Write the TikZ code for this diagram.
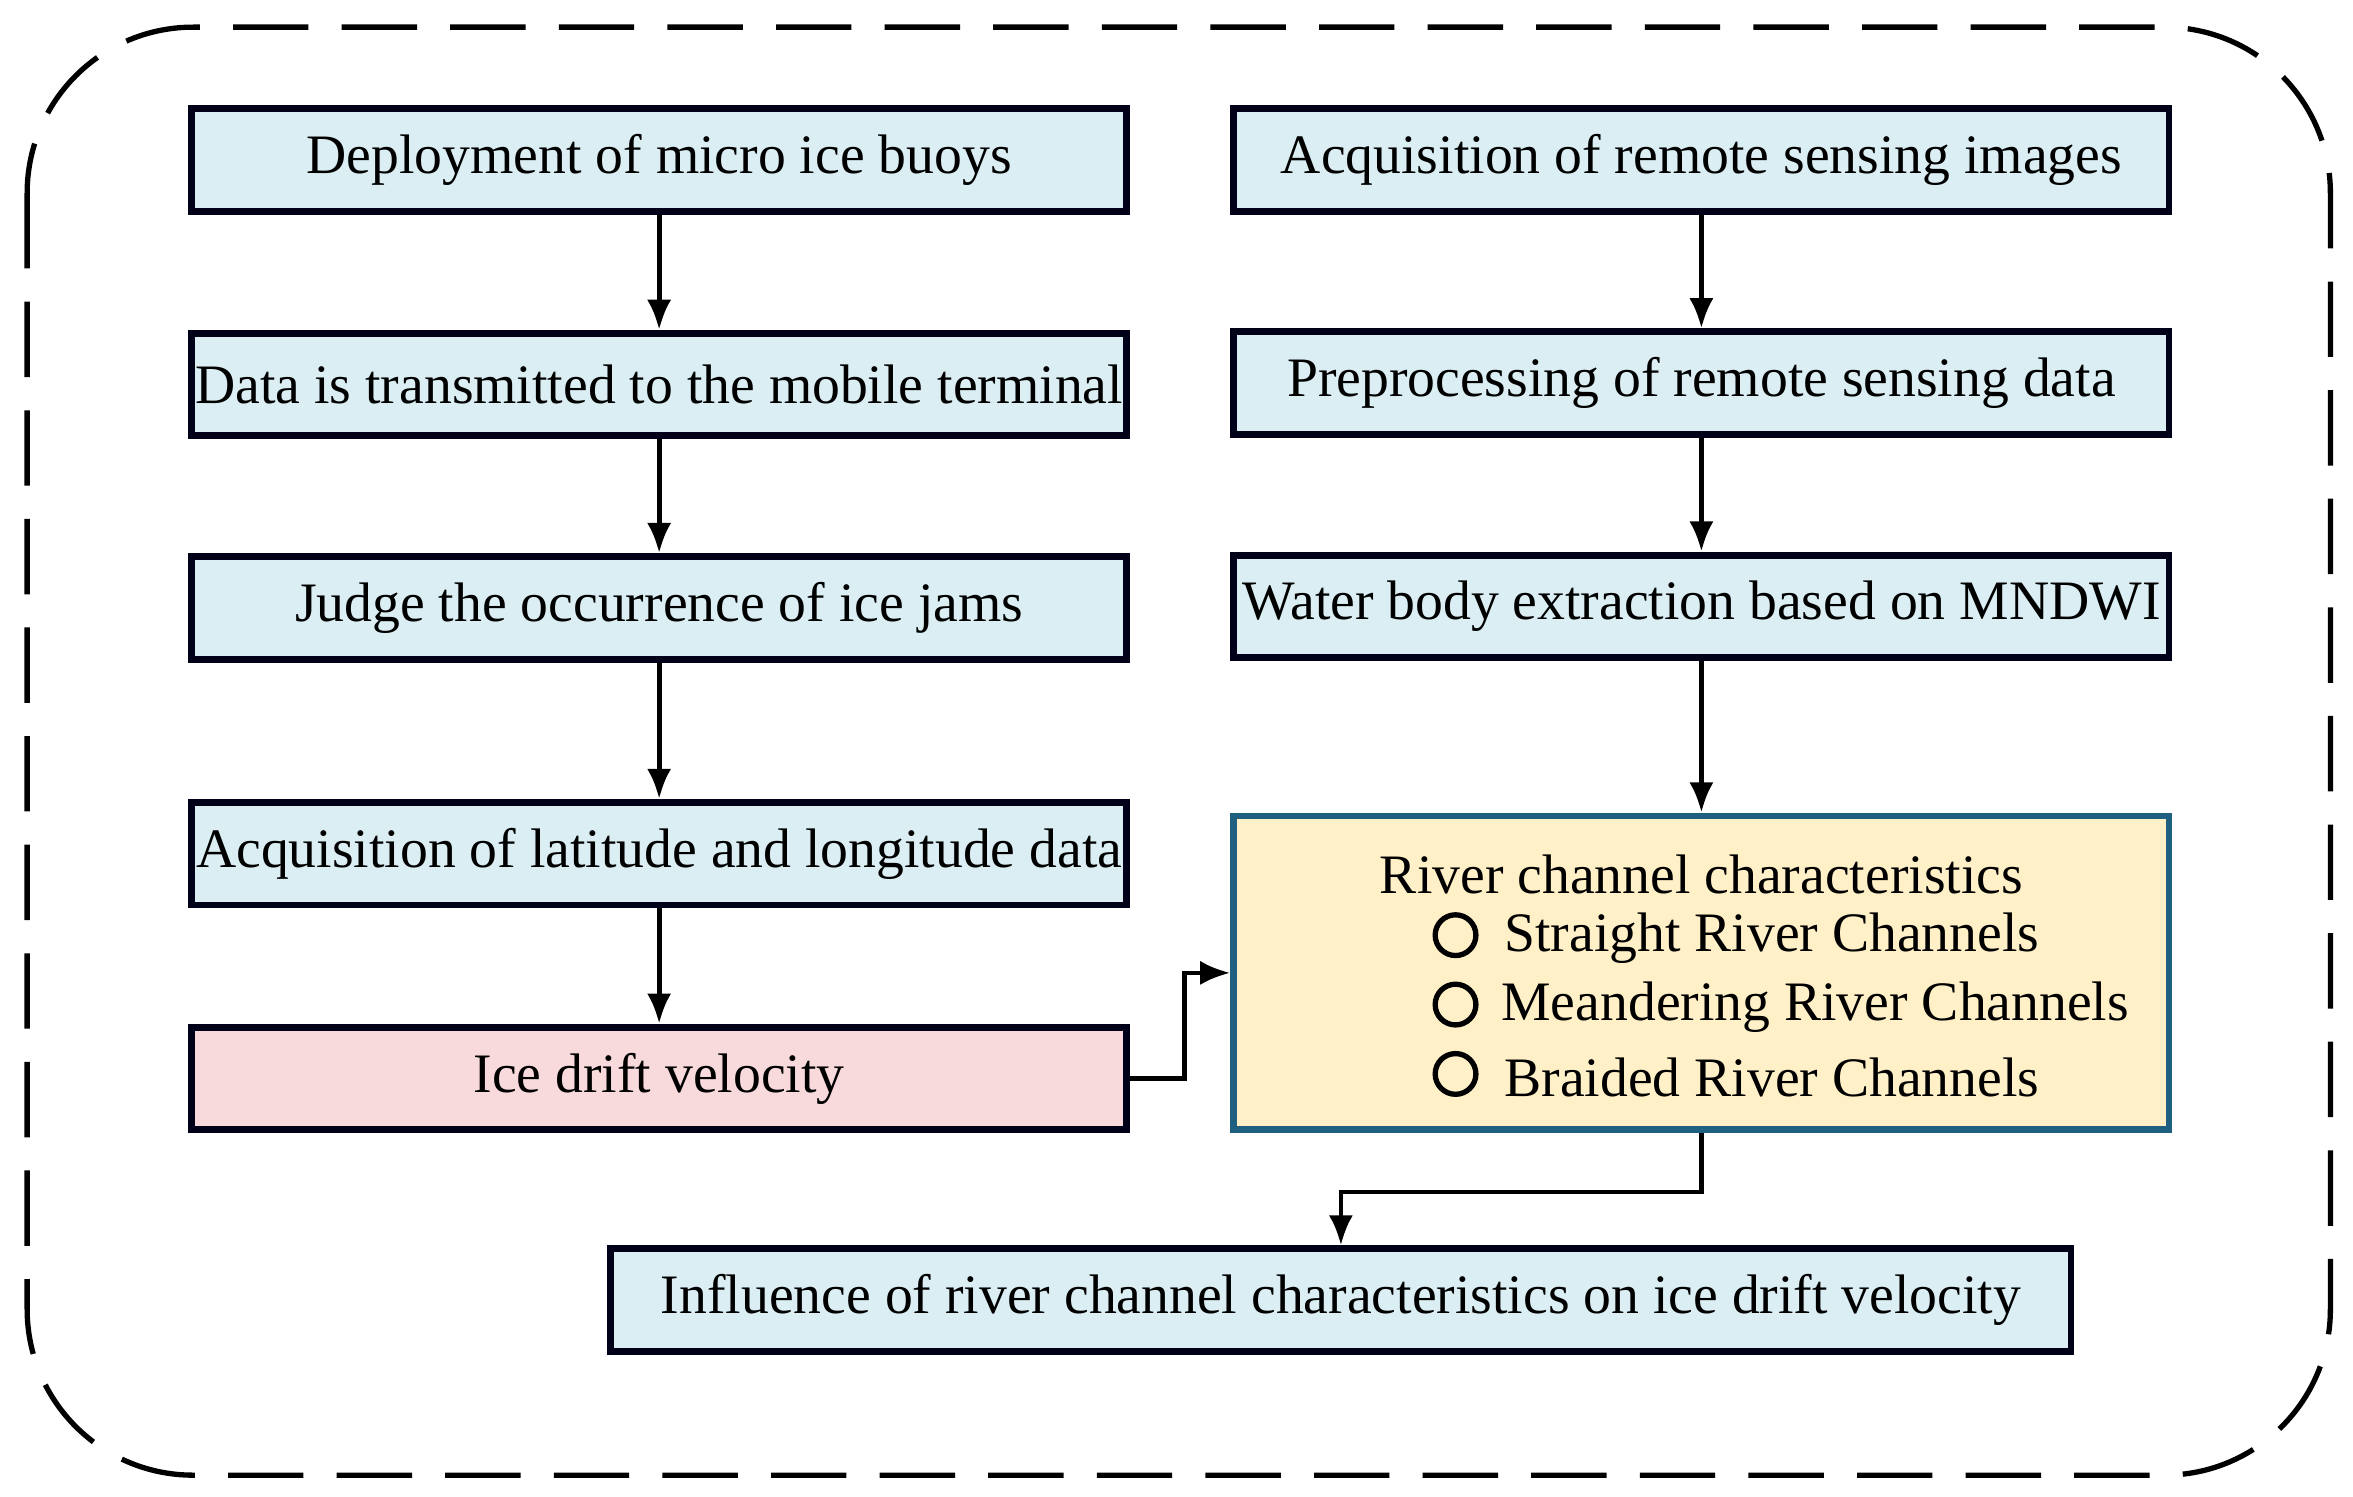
\documentclass[tikz,border=0pt]{standalone}
\usepackage{fontspec}
\setmainfont{Liberation Serif}
\usetikzlibrary{arrows.meta}
\definecolor{bl}{HTML}{DAEEF3}
\definecolor{pk}{HTML}{F8DADC}
\definecolor{yl}{HTML}{FFF0C8}
\definecolor{yb}{HTML}{1F5F7F}
\begin{document}
\begin{tikzpicture}[x=0.1mm,y=-0.1mm,
 box/.style={draw=black!90!blue,line width=1.3pt,fill=bl,minimum width=62mm,minimum height=6.8mm,font=\fontsize{10.5}{12}\selectfont,inner sep=0pt},
 arr/.style={-{Latex[length=2mm,width=1.6mm]},line width=0.9pt}]
\useasboundingbox (0,0) rectangle (1560,992);
\draw[dash pattern=on 5mm off 2.2mm,line width=1pt,rounded corners=11mm] (18,18) rectangle (1545,978);
\node[box] (a1) at (437,106) {Deployment of micro ice buoys};
\node[box] (a2) at (437,255) {Data is transmitted to the mobile terminal};
\node[box] (a3) at (437,403) {Judge the occurrence of ice jams};
\node[box] (a4) at (437,566) {Acquisition of latitude and longitude data};
\node[box,fill=pk] (a5) at (437,715) {Ice drift velocity};
\node[box] (b1) at (1128,106) {Acquisition of remote sensing images};
\node[box] (b2) at (1128,254) {Preprocessing of remote sensing data};
\node[box] (b3) at (1128,402) {Water body extraction based on MNDWI};
\node[box,fill=yl,draw=yb,minimum height=20.8mm] (b4) at (1128,645) {};
\node[box,minimum width=96.8mm] (c) at (889,862) {Influence of river channel characteristics on ice drift velocity};
\begin{scope}[font=\fontsize{10.5}{12}\selectfont]
\node (t0) at (1128,580) {River channel characteristics};
\node[anchor=west] (t1) at (985,622) {Straight River Channels};
\node[anchor=west] (t2) at (983,668) {Meandering River Channels};
\node[anchor=west] (t3) at (985,714) {Braided River Channels};
\end{scope}
\foreach \y/\n in {620/c1,666/c2,712/c3} \draw[line width=1pt] (965,\y) circle (1.35mm);
\draw[arr] (a1) -- (a2); \draw[arr] (a2) -- (a3); \draw[arr] (a3) -- (a4); \draw[arr] (a4) -- (a5);
\draw[arr] (b1) -- (b2); \draw[arr] (b2) -- (b3); \draw[arr] (b3) -- (b4);
\draw[arr] (a5.east) -- ++(36,0) |- (b4.west);
\draw[arr] (b4.south) -- ++(0,39) -| (c.north);
\end{tikzpicture}
\end{document}
